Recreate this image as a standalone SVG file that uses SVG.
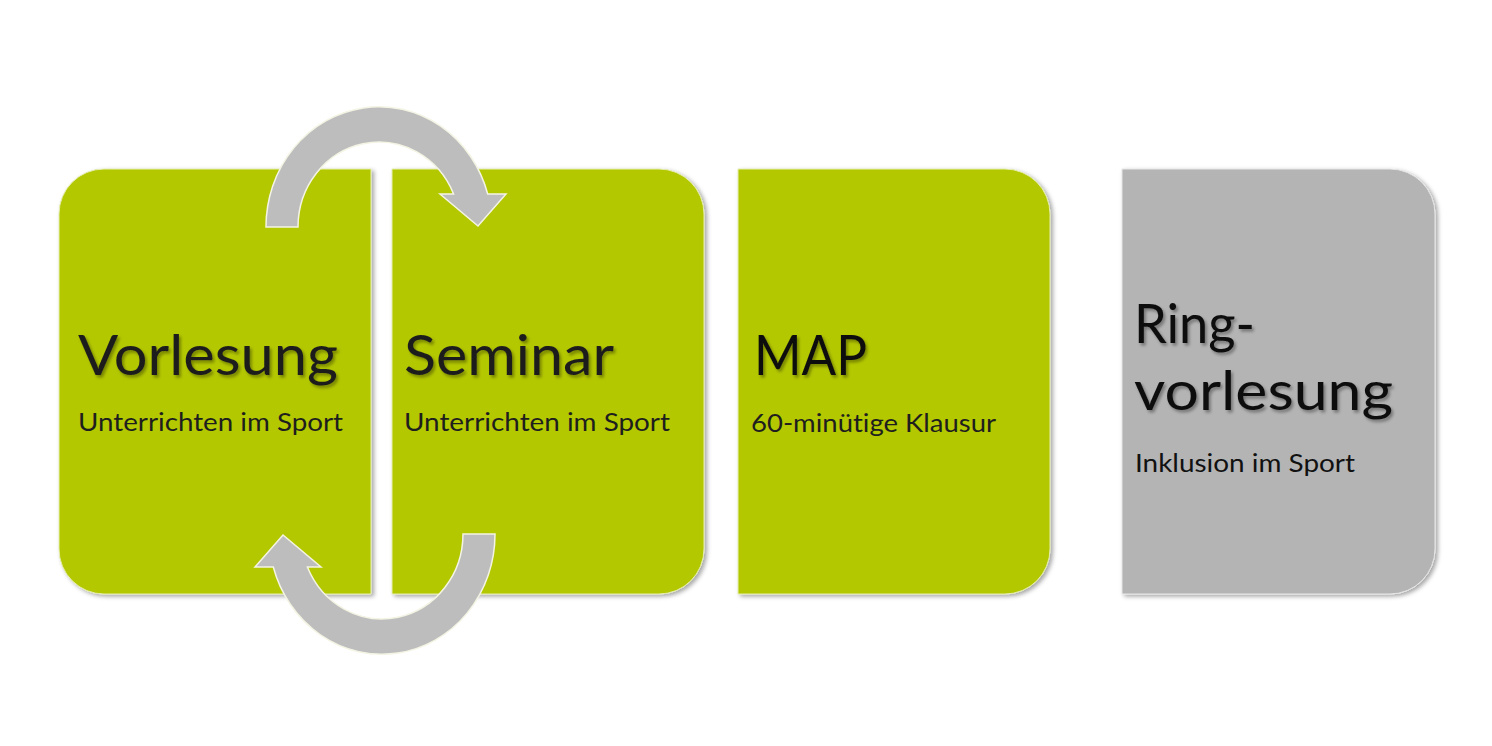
<svg xmlns="http://www.w3.org/2000/svg" width="1492" height="746" viewBox="0 0 1492 746">
  <style>
    .green { fill: #B4C800; stroke: #E4EDB0; stroke-width: 1; }
    .gray { fill: #B4B4B4; stroke: #E6E6E6; stroke-width: 1; }
    text { font-variant-ligatures: none; }
    .title { font-family: Lato, "Open Sans", sans-serif; font-size: 56px; fill: #1E1E1E; }
    .ring { font-size: 55px; }
    .sub { font-family: Lato, "Open Sans", sans-serif; font-size: 25px; fill: #1E1E1E; }
    .arrow { fill: #BDBDBD; stroke: #F4F4E4; stroke-width: 1.5; stroke-linejoin: miter; }
  </style>
  <defs>
    <filter id="boxShadow" x="-5%" y="-5%" width="115%" height="115%">
      <feDropShadow dx="2.5" dy="2" stdDeviation="2" flood-color="#000000" flood-opacity="0.35"/>
    </filter>
    <filter id="textShadow" x="-5%" y="-10%" width="115%" height="130%">
      <feDropShadow dx="2" dy="2.5" stdDeviation="1.8" flood-color="#000000" flood-opacity="0.35"/>
    </filter>
  </defs>
  <rect width="1492" height="746" fill="#FFFFFF"/>

  <g id="node-vorlesung">
    <path class="green" filter="url(#boxShadow)" d="M 104 169 L 371 169 L 371 594 L 104 594 A 45 45 0 0 1 59 549 L 59 214 A 45 45 0 0 1 104 169 Z"/>
    <text class="title" x="78" y="375" textLength="260" lengthAdjust="spacingAndGlyphs" filter="url(#textShadow)">Vorlesung</text>
    <text class="sub" x="78" y="431" textLength="265" lengthAdjust="spacingAndGlyphs">Unterrichten im Sport</text>
  </g>

  <g id="node-seminar">
    <path class="green" filter="url(#boxShadow)" d="M 392 169 L 659 169 A 45 45 0 0 1 704 214 L 704 549 A 45 45 0 0 1 659 594 L 392 594 Z"/>
    <text class="title" x="404" y="375" textLength="210" lengthAdjust="spacingAndGlyphs" filter="url(#textShadow)">Seminar</text>
    <text class="sub" x="404" y="431" textLength="266" lengthAdjust="spacingAndGlyphs">Unterrichten im Sport</text>
  </g>

  <g id="node-map">
    <path class="green" filter="url(#boxShadow)" d="M 738 169 L 1005 169 A 45 45 0 0 1 1050 214 L 1050 549 A 45 45 0 0 1 1005 594 L 738 594 Z"/>
    <text class="title" x="754" y="375" textLength="113" lengthAdjust="spacingAndGlyphs" filter="url(#textShadow)" style="fill:#111111">MAP</text>
    <text class="sub" x="751" y="432" textLength="245" lengthAdjust="spacingAndGlyphs">60-minütige Klausur</text>
  </g>

  <g id="node-ringvorlesung">
    <path class="gray" filter="url(#boxShadow)" d="M 1122 169 L 1390 169 A 45 45 0 0 1 1435 214 L 1435 549 A 45 45 0 0 1 1390 594 L 1122 594 Z"/>
    <text class="title ring" x="1134" y="343" textLength="121" lengthAdjust="spacingAndGlyphs" filter="url(#textShadow)" style="fill:#111111">Ring-</text>
    <text class="title ring" x="1134" y="410" textLength="259" lengthAdjust="spacingAndGlyphs" filter="url(#textShadow)" style="fill:#111111">vorlesung</text>
    <text class="sub" x="1135" y="472" textLength="220" lengthAdjust="spacingAndGlyphs" style="fill:#111111">Inklusion im Sport</text>
  </g>

  <g id="connectors">
    <path id="arrow-top" class="arrow" d="M 266 227 A 113 120 0 0 1 487.7 194 L 506 194 L 478 226 L 440 194 L 453.6 194 A 81 85 0 0 0 298 227 Z"/>
    <path id="arrow-bottom" class="arrow" transform="rotate(180 380.5 380.5)" d="M 266 227 A 113 120 0 0 1 487.7 194 L 506 194 L 478 226 L 440 194 L 453.6 194 A 81 85 0 0 0 298 227 Z"/>
  </g>
</svg>
